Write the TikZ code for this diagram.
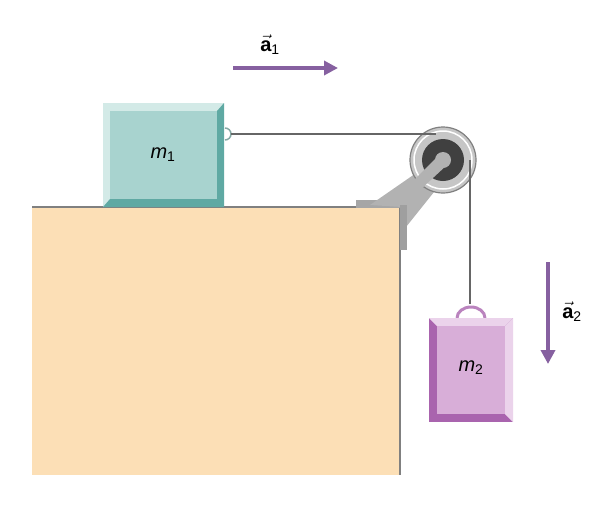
\documentclass[tikz,border=0pt]{standalone}
\usepackage{fontspec}
\setmainfont{Liberation Sans}
\usetikzlibrary{arrows.meta}
\definecolor{tbl}{HTML}{FCDFB6}
\definecolor{tealA}{HTML}{A8D3CF}
\definecolor{tealL}{HTML}{D3EAE7}
\definecolor{tealD}{HTML}{5FA9A3}
\definecolor{pinkA}{HTML}{D8AED8}
\definecolor{pinkL}{HTML}{EBD3EB}
\definecolor{pinkD}{HTML}{A964AE}
\definecolor{arr}{HTML}{8660A0}
\tikzset{rope/.style={draw=gray!80!black,line width=1.2pt},
 acc/.style={arr,line width=4pt,-{Triangle[length=14pt,width=14pt]}},
 lbl/.style={font=\fontsize{20}{24}\selectfont}}
\begin{document}
\begin{tikzpicture}[x=1pt,y=-1pt]
\useasboundingbox (0,0) rectangle (612,512);
% table
\fill[tbl] (32,207) rectangle (399,475);
\draw[gray,line width=2pt] (32,207) -- (400,207) -- (400,475);
% arm
\fill[gray!70] (356,200) rectangle (400,208);
\fill[gray!60] (370,205) -- (435,160) -- (450,172) -- (402,232) -- (402,207) -- cycle;
\fill[gray!75] (400,205) rectangle (407,250);
% pulley
\node[circle,fill=gray!45,draw=gray,line width=1.2pt,minimum size=66pt,inner sep=0] (p) at (443,160) {};
\draw[white,line width=1.5pt] (p) circle (29);
\fill[gray!50!black] (p) circle (21);
\fill[gray!60] (p) circle (8);
\fill[gray!60] (436,158) -- (448,164) -- (420,190) -- (410,184) -- cycle;
% block m1
\fill[tealL] (103,103) rectangle (224,207);
\fill[tealD] (224,103) -- (224,207) -- (103,207) -- (110,199) -- (217,199) -- (217,111) -- cycle;
\fill[tealA] (110,111) rectangle (217,199);
\node[lbl] (m1) at (163,155) {\itshape m\textsubscript{\upshape 1}};
\draw[tealA!80!black,line width=1.5pt] (225,128) arc (-90:90:6);
% rope
\coordinate (r1) at (231,134);
\coordinate (r2) at (436,134);
\coordinate (r3) at (470,160);
\coordinate (r4) at (470,304);
\draw[rope] (r1) -- (r2);
\draw[rope] (r3) -- (r4);
% block m2
\draw[pinkD!80,line width=3pt] (457,318) arc (180:360:14 and 11);
\fill[pinkD] (429,318) rectangle (513,422);
\fill[pinkL] (513,318) -- (513,422) -- (505,414) -- (505,326) -- cycle;
\fill[pinkL] (429,318) -- (513,318) -- (505,326) -- (437,326) -- cycle;
\fill[pinkA] (437,326) rectangle (505,414);
\node[lbl] (m2) at (471,368) {\itshape m\textsubscript{\upshape 2}};
% accelerations
\coordinate (a1s) at (233,68); \coordinate (a1e) at (338,68);
\draw[acc] (a1s) -- (a1e);
\node[lbl,inner sep=0] (a1) at (270,45) {$\vec{\textbf{a}}$\textsubscript{1}};
\coordinate (a2s) at (548,262); \coordinate (a2e) at (548,364);
\draw[acc] (a2s) -- (a2e);
\node[lbl,inner sep=0] (a2) at (572,312) {$\vec{\textbf{a}}$\textsubscript{2}};
\end{tikzpicture}
\end{document}
